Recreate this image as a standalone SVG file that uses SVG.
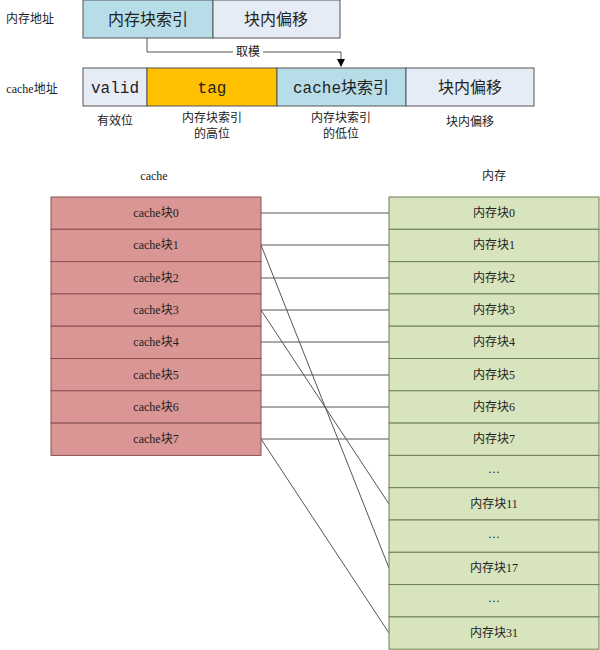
<svg xmlns="http://www.w3.org/2000/svg" width="600" height="650" viewBox="0 0 600 650">
<style>
text{font-family:"Liberation Serif","Noto Sans CJK SC",serif;fill:#222;text-anchor:middle}
.s{font-size:12px}.b{font-size:16px}
.mono{font-family:"Liberation Mono","Noto Sans CJK SC",monospace}
.cell{stroke:#555;stroke-width:1}
.c{fill:#d99694;stroke:#8a5050}.m{fill:#d7e4bd;stroke:#6f7f55}
.ln{stroke:#555;stroke-width:1;fill:none}
</style>
<defs><marker id="a" markerWidth="8" markerHeight="8" refX="7" refY="4" orient="auto" markerUnits="userSpaceOnUse"><path d="M0,0L8,4L0,8z" fill="#000"/></marker></defs>
<rect width="600" height="650" fill="#fff"/>
<g id="memaddr">
<text x="30" y="23" class="s">内存地址</text>
<rect x="83" y="0" width="130" height="38" fill="#b7dde8" class="cell"/>
<rect x="213" y="0" width="127" height="38" fill="#e6ecf5" class="cell"/>
<text x="148" y="25" class="b">内存块索引</text>
<text x="276" y="25" class="b">块内偏移</text>
</g>
<g id="cacheaddr">
<text x="32" y="93" class="s">cache地址</text>
<rect x="83" y="68" width="64" height="38" fill="#e6ecf5" class="cell"/>
<rect x="147" y="68" width="130" height="38" fill="#ffc000" class="cell"/>
<rect x="277" y="68" width="129" height="38" fill="#b7dde8" class="cell"/>
<rect x="406" y="68" width="128" height="38" fill="#e6ecf5" class="cell"/>
<text x="115" y="93" class="b mono">valid</text>
<text x="212" y="93" class="b mono">tag</text>
<text x="341" y="93" class="b mono">cache块索引</text>
<text x="470" y="93" class="b">块内偏移</text>
<text x="115" y="125" class="s">有效位</text>
<text x="212" y="122" class="s">内存块索引</text><text x="212" y="138" class="s">的高位</text>
<text x="341" y="122" class="s">内存块索引</text><text x="341" y="138" class="s">的低位</text>
<text x="470" y="126" class="s">块内偏移</text>
</g>
<g id="connectors">
<path d="M147,38V52H341V66" class="ln" stroke="#000" marker-end="url(#a)"/>
<rect x="233" y="45" width="30" height="14" fill="#fff"/>
<text x="248" y="56" class="s">取模</text>
<path d="M261,213H389M261,245H389M261,278H389M261,310H389M261,342H389M261,375H389M261,407H389M261,439H389" class="ln"/>
<path d="M261,245L389,568M261,310L389,504M261,439L389,633" class="ln"/>
</g>
<g id="cache">
<text x="154" y="180" class="s">cache</text>
<g class="c">
<rect x="51" y="197" width="210" height="32.3"/><rect x="51" y="229.3" width="210" height="32.3"/><rect x="51" y="261.6" width="210" height="32.3"/><rect x="51" y="293.9" width="210" height="32.3"/><rect x="51" y="326.2" width="210" height="32.3"/><rect x="51" y="358.5" width="210" height="32.3"/><rect x="51" y="390.8" width="210" height="32.3"/><rect x="51" y="423.1" width="210" height="32.3"/>
</g>
<text x="156" y="217" class="s">cache块0</text><text x="156" y="249" class="s">cache块1</text><text x="156" y="282" class="s">cache块2</text><text x="156" y="314" class="s">cache块3</text><text x="156" y="346" class="s">cache块4</text><text x="156" y="379" class="s">cache块5</text><text x="156" y="411" class="s">cache块6</text><text x="156" y="443" class="s">cache块7</text>
</g>
<g id="memory">
<text x="494" y="180" class="s">内存</text>
<g class="m">
<rect x="389" y="197" width="210" height="32.3"/><rect x="389" y="229.3" width="210" height="32.3"/><rect x="389" y="261.6" width="210" height="32.3"/><rect x="389" y="293.9" width="210" height="32.3"/><rect x="389" y="326.2" width="210" height="32.3"/><rect x="389" y="358.5" width="210" height="32.3"/><rect x="389" y="390.8" width="210" height="32.3"/><rect x="389" y="423.1" width="210" height="32.3"/><rect x="389" y="455.4" width="210" height="32.3"/><rect x="389" y="487.7" width="210" height="32.3"/><rect x="389" y="520" width="210" height="32.3"/><rect x="389" y="552.3" width="210" height="32.3"/><rect x="389" y="584.6" width="210" height="32.3"/><rect x="389" y="616.9" width="210" height="32.3"/>
</g>
<text x="494" y="217" class="s">内存块0</text><text x="494" y="249" class="s">内存块1</text><text x="494" y="282" class="s">内存块2</text><text x="494" y="314" class="s">内存块3</text><text x="494" y="346" class="s">内存块4</text><text x="494" y="379" class="s">内存块5</text><text x="494" y="411" class="s">内存块6</text><text x="494" y="443" class="s">内存块7</text>
<text x="494" y="473" class="s">…</text><text x="494" y="508" class="s">内存块11</text><text x="494" y="538" class="s">…</text><text x="494" y="572" class="s">内存块17</text><text x="494" y="602" class="s">…</text><text x="494" y="637" class="s">内存块31</text>
</g>
</svg>
